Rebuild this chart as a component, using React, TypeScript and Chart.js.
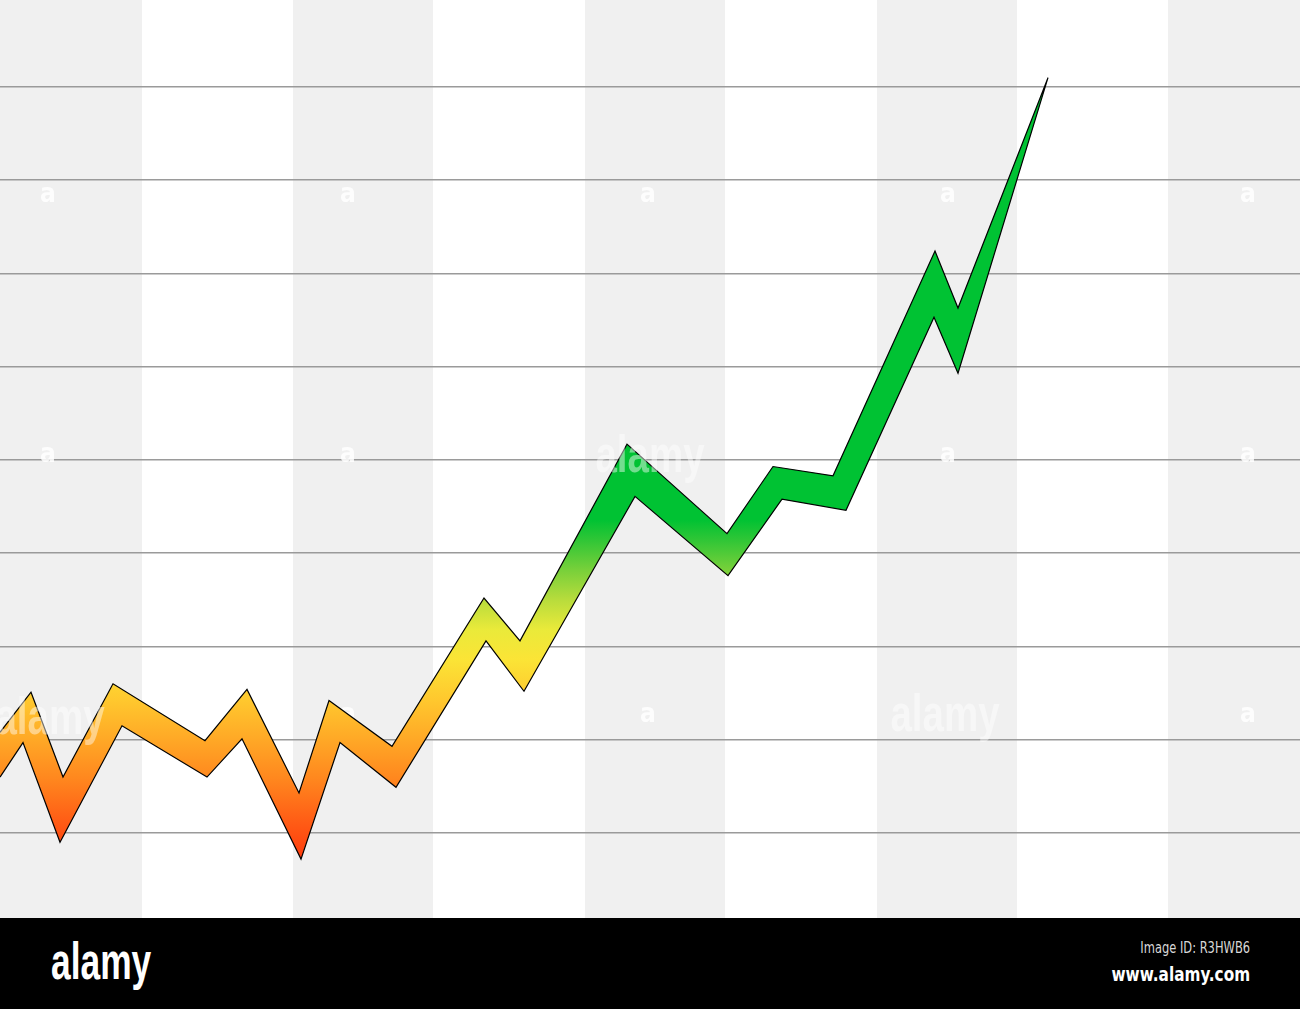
import React, { useEffect, useRef } from "react";
import { Chart, registerables } from "chart.js";

Chart.register(...registerables);

// Upper edge of the ribbon (left to right)
const upperX = [0, 31, 63, 113, 205, 247, 299, 329, 392, 484, 520, 627, 727, 773, 833, 935, 958, 1048];
const upperY = [2.08, 2.51, 1.6, 2.6, 1.99, 2.54, 1.43, 2.42, 1.93, 3.52, 3.06, 5.17, 4.21, 4.93, 4.83, 7.24, 6.63, 9.1];
// Lower edge of the ribbon (left to right)
const lowerX = [0, 23, 60, 122, 207, 242, 301, 340, 396, 486, 524, 635, 728, 782, 846, 934, 958];
const lowerY = [1.6, 1.97, 0.9, 2.15, 1.6, 2.01, 0.72, 1.97, 1.49, 3.06, 2.52, 4.61, 3.76, 4.58, 4.46, 6.53, 5.93];

// Horizontal grid values
const gridValues = [1, 2, 3, 4, 5, 6, 7, 8, 9];
// Shaded vertical bands (x ranges)
const bandStarts = [0, 293, 585, 877, 1168];
const bandEnds = [142, 433, 725, 1017, 1300];

// Vertical colour gradient by value
const gradValues = [4.36, 4.14, 3.82, 3.5, 3.18, 2.86, 2.43, 2.0, 1.57, 1.14, 0.71];
const gradColors = ["#00c233", "#30c636", "#78d03a", "#b8dc3c", "#eaea3a", "#fbe436", "#ffc82e", "#ffa826", "#ff861e", "#ff5e16", "#ff3a0c"];

const X_MIN = 0;
const X_MAX = 1300;
const Y_MIN = 0.0885;
const Y_MAX = 9.933;

const smallMarks = [
  [48, 195], [348, 195], [648, 195], [948, 195], [1248, 195],
  [48, 455], [348, 455], [948, 455], [1248, 455],
  [348, 715], [648, 715], [1248, 715],
];
const bigMarks = [
  [50, 720], [650, 458], [945, 717],
];

const bandsPlugin = {
  id: "bands",
  beforeDraw(chart: any) {
    const { ctx, chartArea, scales } = chart;
    if (!chartArea) return;
    ctx.save();
    ctx.fillStyle = "#ffffff";
    ctx.fillRect(chartArea.left, chartArea.top, chartArea.right - chartArea.left, chartArea.bottom - chartArea.top);
    ctx.fillStyle = "#f0f0f0";
    for (let i = 0; i < bandStarts.length; i++) {
      const a = scales.x.getPixelForValue(bandStarts[i]);
      const b = scales.x.getPixelForValue(bandEnds[i]);
      ctx.fillRect(a, chartArea.top, b - a, chartArea.bottom - chartArea.top);
    }
    ctx.restore();
  },
};

const watermarkPlugin = {
  id: "watermark",
  beforeDatasetsDraw(chart: any) {
    const { ctx } = chart;
    ctx.save();
    ctx.fillStyle = "rgba(255,255,255,0.85)";
    ctx.textAlign = "center";
    ctx.textBaseline = "middle";
    ctx.font = "bold 26px 'DejaVu Sans Condensed', 'DejaVu Sans', sans-serif";
    for (const [x, y] of smallMarks) {
      ctx.fillText("a", x, y);
    }
    ctx.restore();
  },
  afterDatasetsDraw(chart: any) {
    const { ctx } = chart;
    ctx.save();
    ctx.fillStyle = "rgba(255,255,255,0.45)";
    ctx.textBaseline = "middle";
    ctx.font = "bold 52px 'Liberation Sans', Arial, sans-serif";
    for (const [x, y] of bigMarks) {
      ctx.save();
      ctx.translate(x, y);
      ctx.scale(0.74, 1);
      ctx.textAlign = "center";
      ctx.fillText("alamy", 0, 0);
      ctx.restore();
    }
    ctx.restore();
  },
};

export default function App() {
  const canvasRef = useRef<HTMLCanvasElement | null>(null);

  useEffect(() => {
    document.body.style.margin = "0";
    const canvas = canvasRef.current;
    if (!canvas) return;

    const poly: { x: number; y: number }[] = [];
    for (let i = 0; i < upperX.length; i++) poly.push({ x: upperX[i], y: upperY[i] });
    for (let i = lowerX.length - 1; i >= 0; i--) poly.push({ x: lowerX[i], y: lowerY[i] });

    const chart = new Chart(canvas, {
      type: "line",
      data: {
        datasets: [
          {
            data: poly,
            fill: "shape",
            borderColor: "#000000",
            borderWidth: 1.2,
            borderJoinStyle: "miter",
            pointRadius: 0,
            tension: 0,
            backgroundColor: (context: any) => {
              const c = context.chart;
              const { chartArea, scales } = c;
              if (!chartArea || !scales.y) return gradColors[0];
              const top = scales.y.getPixelForValue(gradValues[0]);
              const bot = scales.y.getPixelForValue(gradValues[gradValues.length - 1]);
              const g = c.ctx.createLinearGradient(0, top, 0, bot);
              for (let i = 0; i < gradValues.length; i++) {
                const p = scales.y.getPixelForValue(gradValues[i]);
                g.addColorStop(Math.min(1, Math.max(0, (p - top) / (bot - top))), gradColors[i]);
              }
              return g;
            },
          } as any,
        ],
      },
      options: {
        animation: false,
        responsive: false,
        layout: { padding: 0 },
        plugins: {
          legend: { display: false },
          tooltip: { enabled: false },
        },
        scales: {
          x: {
            type: "linear",
            min: X_MIN,
            max: X_MAX,
            display: false,
          },
          y: {
            type: "linear",
            min: Y_MIN,
            max: Y_MAX,
            afterBuildTicks: (scale: any) => {
              scale.ticks = gridValues.map((v) => ({ value: v }));
            },
            ticks: { display: false },
            border: { display: false },
            grid: {
              color: "#9a9a9a",
              lineWidth: 1.6,
              drawTicks: false,
            },
          },
        },
      },
      plugins: [bandsPlugin, watermarkPlugin],
    });

    return () => chart.destroy();
  }, []);

  return (
    <div style={{ position: "absolute", left: 0, top: 0, width: 1300, height: 1009, background: "#fff", overflow: "hidden" }}>
      <canvas ref={canvasRef} width={1300} height={918} style={{ display: "block", width: 1300, height: 918 }} />
      <div style={{ position: "relative", width: 1300, height: 91, background: "#000" }}>
        <div
          style={{
            position: "absolute",
            left: 51,
            top: 13,
            color: "#fff",
            fontFamily: "'Liberation Sans', Arial, sans-serif",
            fontWeight: "bold",
            fontSize: 52,
            lineHeight: "60px",
            transform: "scaleX(0.68)",
            transformOrigin: "left top",
            whiteSpace: "nowrap",
          }}
        >
          alamy
        </div>
        <div
          style={{
            position: "absolute",
            right: 50,
            top: 21,
            color: "#d8d8d8",
            fontFamily: "'DejaVu Sans Condensed', 'DejaVu Sans', sans-serif",
            fontSize: 15,
            lineHeight: "18px",
            transform: "scaleX(0.85)",
            transformOrigin: "right top",
            whiteSpace: "nowrap",
          }}
        >
          Image ID: R3HWB6
        </div>
        <div
          style={{
            position: "absolute",
            right: 50,
            top: 44,
            color: "#ffffff",
            fontFamily: "'DejaVu Sans Condensed', 'DejaVu Sans', sans-serif",
            fontWeight: "bold",
            fontSize: 20,
            lineHeight: "24px",
            transform: "scaleX(0.85)",
            transformOrigin: "right top",
            whiteSpace: "nowrap",
          }}
        >
          www.alamy.com
        </div>
      </div>
    </div>
  );
}
